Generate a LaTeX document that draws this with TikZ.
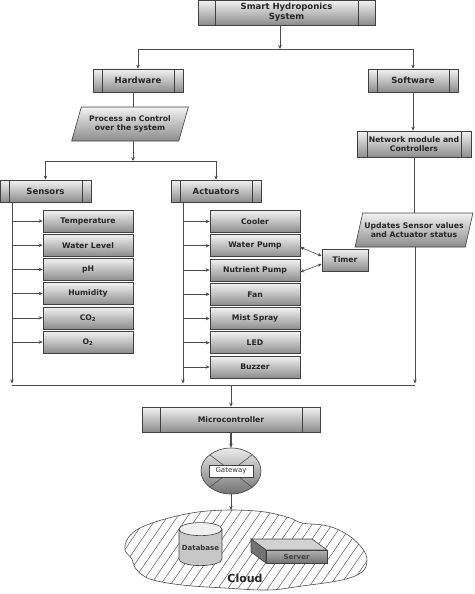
\documentclass[tikz,border=0pt]{standalone}
\usepackage{fontspec}
\setmainfont{DejaVu Sans}
\usetikzlibrary{shapes.geometric,shapes.symbols,arrows.meta,calc}
\begin{document}
\begin{tikzpicture}[x=1pt,y=-1pt,
  line/.style={draw=black!70, line width=0.6pt},
  arr/.style={line, -{Stealth[length=4pt,width=3.5pt]}},
  dbl/.style={line, {Stealth[length=4pt,width=3.5pt]}-{Stealth[length=4pt,width=3.5pt]}},
  box/.style={draw=black!75, line width=0.6pt, top color=black!5, bottom color=black!45,
    font=\fontsize{7.7}{9}\selectfont\bfseries, text=black!85, inner sep=1pt, align=center},
  pp/.style={box, path picture={\draw[black!75, line width=0.5pt]
     ([xshift=#1]path picture bounding box.north west) -- ([xshift=#1]path picture bounding box.south west)
     ([xshift=-#1]path picture bounding box.north east) -- ([xshift=-#1]path picture bounding box.south east);}},
  pp/.default=9pt,
  para/.style={box, trapezium, trapezium left angle=66, trapezium right angle=114, trapezium stretches=true},
  hdr/.style={font=\fontsize{8.5}{10}\selectfont\bfseries},
  cloudline/.style={draw=black!70, line width=0.6pt},
]
\useasboundingbox (0,0) rectangle (474,594);

% main boxes
\node[pp=17pt, hdr, minimum width=177, minimum height=25] (top) at (286.5,12.5) {Smart Hydroponics\\System};
\node[pp, hdr, minimum width=90, minimum height=23] (hw) at (138,80.5) {Hardware};
\node[pp, hdr, minimum width=90, minimum height=23] (sw) at (413,80.5) {Software};
\node[para, minimum width=118, minimum height=34] (proc) at (130,124) {Process an Control\\over the system};
\node[pp=10pt, minimum width=114, minimum height=26] (net) at (414,144) {Network module and\\Controllers};
\node[para, minimum width=118, minimum height=34] (upd) at (414,230) {Updates Sensor values\\and Actuator status};
\node[pp, hdr, minimum width=91, minimum height=22] (sen) at (45.5,191) {Sensors};
\node[pp, hdr, minimum width=90, minimum height=22] (act) at (216,191) {Actuators};

% sensors
\foreach \t [count=\i] in {Temperature, Water Level, pH, Humidity, CO\textsubscript{2}, O\textsubscript{2}}
  \node[box, minimum width=90, minimum height=22] (s\i) at (88,{221+(\i-1)*24.2}) {\t};
% actuators
\foreach \t [count=\i] in {Cooler, Water Pump, Nutrient Pump, Fan, Mist Spray, LED, Buzzer}
  \node[box, minimum width=90, minimum height=22] (a\i) at (255,{221.5+(\i-1)*24.25}) {\t};

\node[box, minimum width=46, minimum height=22] (timer) at (345,260) {Timer};

\node[pp=18pt, minimum width=178, minimum height=25] (mc) at (231,419.5) {Microcontroller};

% gateway
\node[ellipse, draw=black!75, line width=0.6pt, top color=black!8, bottom color=black!55,
  minimum width=60, minimum height=46,
  path picture={\draw[black!75, line width=0.5pt]
    (path picture bounding box.north west) -- (path picture bounding box.south east)
    (path picture bounding box.north east) -- (path picture bounding box.south west);}] (gw) at (231,471) {};
\node[draw=black!75, fill=white, minimum width=44, minimum height=12, inner sep=0pt,
  font=\fontsize{7}{8}\selectfont, text=black!80] (gwl) at (gw.center) {Gateway};

% cloud
\def\cloudpath{plot[smooth cycle, tension=0.6] coordinates {(128,538) (140,528) (165,519) (198,512) (232,510) (265,512) (290,518) (302,523) (328,526) (348,535) (362,548) (367,560) (362,572) (342,580) (302,586) (268,590) (225,588) (182,585) (150,579) (136,569) (132,559) (125,550)}}
\begin{scope}
  \clip \cloudpath;
  \foreach \k in {0,...,40}
    \draw[black!70, line width=0.45pt] ({60+\k*10},600) -- ++(69,-100);
\end{scope}
\draw[cloudline] \cloudpath;
\coordinate (ctop) at (231,510);

% database
\node[cylinder, shape border rotate=90, aspect=0.35, draw=black!75, line width=0.6pt,
  cylinder uses custom fill, cylinder body fill=black!22, cylinder end fill=black!6,
  minimum width=43, minimum height=43, inner sep=0pt,
  font=\fontsize{7}{8}\selectfont\bfseries, text=black!80] (db) at (200.5,547.5) {\raisebox{-5pt}{Database}};

% server
\filldraw[fill=black!18, draw=black!75, line width=0.6pt] (251,539) -- (312,539) -- (327,550) -- (266,550) -- cycle;
\filldraw[fill=black!55, draw=black!75, line width=0.6pt] (251,539) -- (266,550) -- (266,563) -- (251,552) -- cycle;
\node[draw=black!75, line width=0.6pt, top color=black!30, bottom color=black!55, minimum width=61, minimum height=13,
  inner sep=0pt, font=\fontsize{7}{8}\selectfont\bfseries, text=black!75] (srv) at (296.5,556.5) {Server};

\node[font=\fontsize{11}{13}\selectfont\bfseries, text=black!85] (cl) at (245,578) {Cloud};

% connectors
\coordinate (j1) at (280,49);
\draw[arr] (top.south -| j1) -- (j1);
\draw[line] (hw.north |- j1) -- (sw.north |- j1);
\draw[arr] (hw.north |- j1) -- (hw.north);
\draw[arr] (sw.north |- j1) -- (sw.north);

\coordinate (j2) at (133,161);
\draw[line] (hw.south -| j2) -- (proc.north -| j2);
\draw[arr] (proc.south -| j2) -- (j2);
\draw[line] (sen.north |- j2) -- (act.north |- j2);
\draw[arr] (sen.north |- j2) -- (sen.north);
\draw[arr] (act.north |- j2) -- (act.north);

\draw[arr] (sw.south) -- (sw.south |- net.north);
\draw[line] (net.south) -- (net.south |- upd.north);

\coordinate (bl) at (12,385);
\coordinate (ab) at (183,385);
\coordinate (br) at (415,385);
\draw[line] (bl) -- (br);
\draw[arr, shorten >=1.5pt] (sen.south -| bl) -- (bl);
\draw[arr, shorten >=1.5pt] (act.south -| ab) -- (ab);
\draw[arr, shorten >=1.5pt] (upd.south -| br) -- (br);
\foreach \i in {1,...,6} \draw[arr] (s\i.west -| bl) -- (s\i.west);
\foreach \i in {1,...,7} \draw[arr] (a\i.west -| ab) -- (a\i.west);

\draw[dbl] ([yshift=-1.5pt]a2.east) -- ([yshift=4pt]timer.west);
\draw[dbl] ([yshift=-2pt]a3.east) -- ([yshift=-4pt]timer.west);

\draw[arr] (mc.north |- bl) -- (mc.north);
\draw[arr, line width=1.2pt] (mc.south) -- (gw.north);
\draw[arr] (gw.south) -- (ctop);
\end{tikzpicture}
\end{document}
